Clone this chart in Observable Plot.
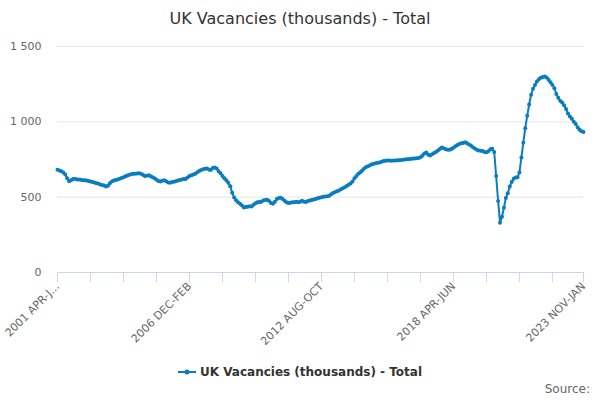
<!DOCTYPE html>
<html>
<head>
<meta charset="utf-8">
<script src="https://cdn.jsdelivr.net/npm/d3@7"></script>
<script src="https://cdn.jsdelivr.net/npm/@observablehq/plot@0.6"></script>
<style>
  html, body { margin: 0; padding: 0; background: #fff; }
  #wrap { position: relative; width: 600px; height: 400px; font-family: "DejaVu Sans", Verdana, sans-serif; overflow: hidden; }
  #title { position: absolute; top: 9px; left: 0; width: 600px; text-align: center; font-size: 16px; color: #333; }
  #chart { position: absolute; top: 39px; left: 0; }
  #legend { position: absolute; top: 365px; left: 0; width: 600px; display: flex; justify-content: center; align-items: center; font-size: 12px; font-weight: bold; color: #333; }
  #legend svg { margin-right: 4px; }
  #source { position: absolute; top: 382px; right: 10px; font-size: 12px; color: #666; }
</style>
</head>
<body>
<div id="wrap">
  <div id="title">UK Vacancies (thousands) - Total</div>
  <div id="chart"></div>
  <div id="legend"><svg width="18" height="10"><line x1="0" y1="5" x2="18" y2="5" stroke="#0a7cc1" stroke-width="2"/><circle cx="9" cy="5" r="2.5" fill="#0a7cc1"/></svg><span>UK Vacancies (thousands) - Total</span></div>
  <div id="source">Source:</div>
</div>
<script>
// Monthly rolling-quarter values, 2001 APR-JUN ... 2023 NOV-JAN (thousands)
const values = [
  682, 677, 672, 664, 650, 625, 606, 612, 620, 622, 617, 618,
  615, 613, 612, 610, 607, 604, 600, 597, 593, 590, 584, 580,
  577, 570, 575, 592, 604, 610, 614, 618, 622, 627, 633, 638,
  644, 648, 652, 655, 655, 657, 659, 656, 648, 640, 642, 645,
  638, 632, 625, 615, 607, 604, 609, 613, 605, 598, 596, 600,
  603, 606, 610, 614, 617, 620, 621, 630, 640, 645, 650, 656,
  665, 674, 680, 686, 688, 690, 684, 680, 693, 697, 690, 672,
  658, 640, 626, 612, 595, 572, 530, 498, 480, 466, 456, 446,
  432, 434, 437, 440, 438, 450, 460, 466, 468, 470, 478, 482,
  483, 475, 462, 456, 470, 488, 494, 496, 488, 476, 466, 462,
  463, 466, 466, 470, 466, 470, 476, 470, 468, 474, 478, 482,
  485, 488, 493, 496, 500, 503, 505, 506, 510, 520, 528, 534,
  540, 545, 552, 560, 566, 574, 582, 590, 604, 625, 640, 655,
  666, 677, 690, 700, 706, 712, 718, 722, 725, 728, 730, 735,
  740, 742, 743, 743, 742, 744, 744, 745, 745, 746, 748, 750,
  752, 753, 754, 756, 757, 758, 760, 765, 775, 790, 796, 782,
  777, 785, 793, 800, 810, 820, 829, 825, 818, 815, 814, 820,
  828, 838, 847, 853, 858, 860, 864, 858, 850, 843, 832, 823,
  815, 810, 808, 806, 800, 798, 805, 818, 822, 800, 640, 475,
  330, 370, 430, 495, 526, 570, 600, 622, 630, 632, 664, 763,
  862, 958, 1040, 1115, 1180, 1219, 1245, 1268, 1282, 1292, 1298, 1301,
  1295, 1280, 1262, 1245, 1223, 1185, 1160, 1140, 1128, 1110, 1085, 1055,
  1035, 1020, 1000, 985, 963, 948, 937, 932
];

// Category ticks (every 17th period) and the labelled ones
const tickPositions = [0, 17, 34, 51, 68, 85, 102, 119, 136, 153, 170, 187, 204, 221, 238, 255, 271];
const labelPositions = [0, 68, 136, 204, 271];
const tickLabels = ["2001 APR-J...", "2006 DEC-FEB", "2012 AUG-OCT", "2018 APR-JUN", "2023 NOV-JAN"];
const yTicks = [0, 500, 1000, 1500];

const data = values.map((v, i) => ({i, v}));
const color = "#0a7cc1";
const fmtY = d => d3.format(",")(d).replace(/,/g, " ");

const chart = Plot.plot({
  width: 600,
  height: 320,
  marginLeft: 57,
  marginRight: 17,
  marginTop: 7,
  marginBottom: 87,
  style: {fontFamily: "DejaVu Sans, Verdana, sans-serif", fontSize: "11px", background: "#fff"},
  x: {domain: [0, values.length - 1], axis: null},
  y: {domain: [0, 1500], axis: null},
  marks: [
    Plot.gridY([500, 1000, 1500], {stroke: "#e6e6e6", strokeOpacity: 1}),
    Plot.axisY(yTicks, {tickSize: 0, tickPadding: 16, tickFormat: fmtY, fill: "#666", label: null}),
    Plot.ruleY([0], {stroke: "#ccd6eb"}),
    Plot.axisX(tickPositions, {tickSize: 10, tickFormat: () => "", stroke: "#ccd6eb", strokeOpacity: 1, label: null}),
    Plot.axisX(labelPositions, {tickSize: 0, tickPadding: 12, tickRotate: -45,
      tickFormat: d => tickLabels[labelPositions.indexOf(d)], fill: "#666", label: null}),
    Plot.line(data, {x: "i", y: "v", stroke: color, strokeWidth: 2}),
    Plot.dot(data, {x: "i", y: "v", fill: color, r: 2})
  ]
});
document.getElementById("chart").appendChild(chart);
</script>
</body>
</html>
